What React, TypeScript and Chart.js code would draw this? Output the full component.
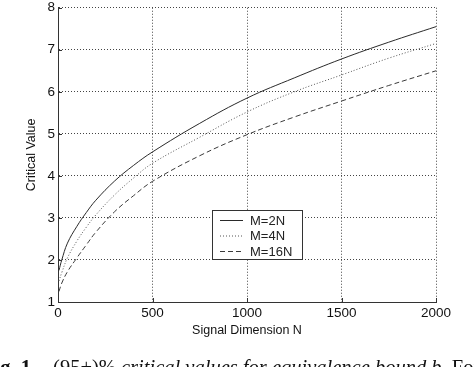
import React, { useEffect, useRef } from 'react';
import { Chart, registerables } from 'chart.js';

Chart.register(...registerables);

// Signal dimension N (x values)
const signalDimension = [5, 20, 50, 100, 150, 200, 300, 400, 500, 750, 1000, 1250, 1500, 1750, 2000];
// Critical values
const criticalM2N = [1.75, 2.0, 2.4, 2.8, 3.13, 3.42, 3.88, 4.25, 4.57, 5.25, 5.85, 6.33, 6.78, 7.18, 7.55];
const criticalM4N = [1.5, 1.7, 2.05, 2.45, 2.78, 3.07, 3.55, 3.95, 4.3, 4.92, 5.52, 6.0, 6.4, 6.8, 7.15];
const criticalM16N = [1.25, 1.45, 1.72, 2.05, 2.36, 2.66, 3.15, 3.53, 3.87, 4.48, 4.98, 5.4, 5.78, 6.15, 6.5];

const seriesLabels = ['M=2N', 'M=4N', 'M=16N'];
const xRange = [0, 2000];
const yRange = [1, 8];
const xStep = 500;
const yStep = 1;

const xTitle = 'Signal Dimension N';
const yTitle = 'Critical Value';

const SANS = '"Liberation Sans", Arial, Helvetica, sans-serif';

const boxLegend = {
  id: 'boxLegend',
  afterDraw(chart: any) {
    const { ctx, chartArea: a } = chart;
    const x0 = Math.round(a.left + a.width * 0.407);
    const y0 = Math.round(a.top + a.height * 0.687);
    const w = 90;
    const h = 49;
    ctx.save();
    ctx.fillStyle = '#fff';
    ctx.fillRect(x0, y0, w, h);
    ctx.strokeStyle = '#333';
    ctx.lineWidth = 1;
    ctx.setLineDash([]);
    ctx.strokeRect(x0 + 0.5, y0 + 0.5, w, h);
    chart.data.datasets.forEach((ds: any, i: number) => {
      const cy = y0 + 10.5 + i * 15.5;
      ctx.setLineDash(ds.borderDash || []);
      ctx.strokeStyle = ds.borderColor;
      ctx.lineWidth = 1;
      ctx.beginPath();
      ctx.moveTo(x0 + 8, cy);
      ctx.lineTo(x0 + 31, cy);
      ctx.stroke();
      ctx.setLineDash([]);
      ctx.fillStyle = '#222';
      ctx.font = '13px ' + SANS;
      ctx.textBaseline = 'middle';
      ctx.textAlign = 'left';
      ctx.fillText(ds.label, x0 + 38, cy + 0.5);
    });
    ctx.restore();
  },
};

const inwardTicks = {
  id: 'inwardTicks',
  afterDatasetsDraw(chart: any) {
    const { ctx, chartArea: a, scales } = chart;
    ctx.save();
    ctx.strokeStyle = '#333';
    ctx.lineWidth = 1;
    ctx.setLineDash([]);
    scales.x.ticks.forEach((t: any) => {
      const px = Math.round(scales.x.getPixelForValue(t.value)) + 0.5;
      ctx.beginPath();
      ctx.moveTo(px, a.bottom);
      ctx.lineTo(px, a.bottom - 4);
      ctx.stroke();
    });
    scales.y.ticks.forEach((t: any) => {
      const py = Math.round(scales.y.getPixelForValue(t.value)) + 0.5;
      ctx.beginPath();
      ctx.moveTo(a.left, py);
      ctx.lineTo(a.left + 4, py);
      ctx.stroke();
    });
    ctx.restore();
  },
};

export default function App() {
  const canvasRef = useRef<HTMLCanvasElement | null>(null);

  useEffect(() => {
    if (!canvasRef.current) return;
    const mk = (vals: number[]) => signalDimension.map((n, i) => ({ x: n, y: vals[i] }));
    const lineBase = {
      borderWidth: 1,
      pointRadius: 0,
      tension: 0.4,
      fill: false,
    };
    const chart = new Chart(canvasRef.current, {
      type: 'line',
      data: {
        datasets: [
          { ...lineBase, label: seriesLabels[0], data: mk(criticalM2N), borderColor: '#2a2a2a', borderDash: [] },
          { ...lineBase, label: seriesLabels[1], data: mk(criticalM4N), borderColor: '#555', borderDash: [1, 2] },
          { ...lineBase, label: seriesLabels[2], data: mk(criticalM16N), borderColor: '#3a3a3a', borderDash: [5, 3] },
        ],
      },
      options: {
        responsive: false,
        animation: false,
        devicePixelRatio: 1,
        layout: { padding: { top: 5, right: 38, left: 0, bottom: 0 } },
        plugins: {
          legend: { display: false },
          tooltip: { enabled: false },
        },
        scales: {
          x: {
            type: 'linear',
            min: xRange[0],
            max: xRange[1],
            afterFit: (s: any) => { s.height = 65; },
            ticks: {
              stepSize: xStep,
              padding: 3,
              color: '#111',
              font: { family: SANS, size: 13.5 },
              maxRotation: 0,
              callback: (v: any) => String(v),
            },
            grid: { color: '#444', drawTicks: false, lineWidth: 1 },
            border: { display: true, color: '#333', width: 1, dash: [1, 2] },
            title: {
              display: true,
              text: xTitle,
              color: '#111',
              font: { family: SANS, size: 12.5 },
              padding: { top: 0, bottom: 28.5 },
            },
          },
          y: {
            type: 'linear',
            min: yRange[0],
            max: yRange[1],
            afterFit: (s: any) => { s.width = 58; },
            ticks: {
              stepSize: yStep,
              padding: 3,
              color: '#111',
              font: { family: SANS, size: 13.5, lineHeight: 0.7 },
              callback: (v: any) => String(v),
            },
            grid: { color: '#444', drawTicks: false, lineWidth: 1 },
            border: { display: true, color: '#333', width: 1, dash: [1, 2] },
            title: {
              display: true,
              text: yTitle,
              color: '#111',
              font: { family: SANS, size: 12.5 },
              padding: { top: 24.5, bottom: 0 },
            },
          },
        },
      },
      plugins: [inwardTicks, boxLegend],
    } as any);
    return () => chart.destroy();
  }, []);

  return (
    <div
      style={{
        position: 'absolute',
        left: 0,
        top: 0,
        width: 474,
        height: 367,
        overflow: 'hidden',
        background: '#fff',
      }}
    >
      <canvas ref={canvasRef} width={474} height={367} style={{ display: 'block' }} />
      <div
        style={{
          position: 'absolute',
          left: -18,
          top: 357,
          whiteSpace: 'nowrap',
          font: '20.5px "Liberation Serif", "Times New Roman", serif',
          lineHeight: '20px',
          color: '#111',
        }}
      >
        <b>Fig. 1.</b>
        <span style={{ marginLeft: 17 }}>(95+)% </span>
        <i>critical values for equivalence bound b</i>. For
      </div>
    </div>
  );
}
